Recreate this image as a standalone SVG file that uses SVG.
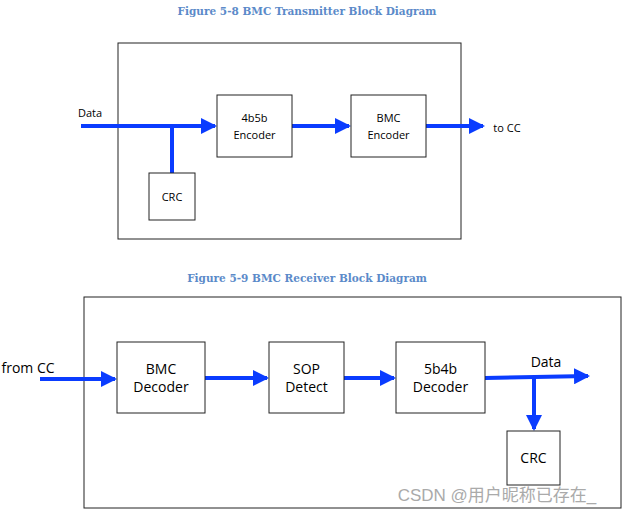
<svg xmlns="http://www.w3.org/2000/svg" width="622" height="513" viewBox="0 0 622 513">
<style>
.t{font-family:"DejaVu Serif",serif;font-weight:bold;font-size:10.5px;fill:#5b8ac9;text-anchor:middle}
.b{fill:#fff;stroke:#222;stroke-width:1}
.l{font-family:"Open Sans","Liberation Sans",sans-serif;fill:#000;text-anchor:middle}
.s{font-size:11px}.m{font-size:14px}
.c{stroke:#0a3cff;stroke-width:4;fill:none}
</style>
<defs><marker id="a" markerWidth="4" markerHeight="4" refX="3.5" refY="2" orient="auto" markerUnits="strokeWidth"><path d="M0,0L4,2L0,4z" fill="#0a3cff"/></marker></defs>
<rect width="622" height="513" fill="#fff"/>
<text class="t" x="307" y="15">Figure 5-8 BMC Transmitter Block Diagram</text>
<text class="t" x="307" y="282">Figure 5-9 BMC Receiver Block Diagram</text>
<rect class="b" x="118" y="43" width="343" height="196"/>
<rect class="b" x="84" y="297" width="537" height="211"/>
<g id="connectors">
<path class="c" d="M81,126H215" marker-end="url(#a)"/>
<path class="c" d="M172,126V173"/>
<path class="c" d="M292,126H349" marker-end="url(#a)"/>
<path class="c" d="M426,126H483" marker-end="url(#a)"/>
<path class="c" d="M40,379H115" marker-end="url(#a)"/>
<path class="c" d="M205,378H267" marker-end="url(#a)"/>
<path class="c" d="M344,378H394" marker-end="url(#a)"/>
<path class="c" d="M485,378L588,376" marker-end="url(#a)"/>
<path class="c" d="M534,378V429" marker-end="url(#a)"/>
</g>
<g id="n4b5b"><rect class="b" x="217" y="95" width="75" height="62"/><text class="l s" x="254.5" y="122">4b5b</text><text class="l s" x="254.5" y="139">Encoder</text></g>
<g id="nbmcenc"><rect class="b" x="351" y="95" width="75" height="62"/><text class="l s" x="388.5" y="122">BMC</text><text class="l s" x="388.5" y="139">Encoder</text></g>
<g id="ncrc1"><rect class="b" x="149" y="173" width="46" height="47"/><text class="l s" x="172" y="201">CRC</text></g>
<text class="l s" x="90" y="117">Data</text>
<text class="l s" x="507" y="132">to CC</text>
<g id="nbmcdec"><rect class="b" x="117" y="342" width="88" height="71"/><text class="l m" x="161" y="374">BMC</text><text class="l m" x="161" y="392">Decoder</text></g>
<g id="nsop"><rect class="b" x="269" y="342" width="75" height="71"/><text class="l m" x="306.5" y="374">SOP</text><text class="l m" x="306.5" y="392">Detect</text></g>
<g id="n5b4b"><rect class="b" x="396" y="342" width="89" height="71"/><text class="l m" x="440.5" y="374">5b4b</text><text class="l m" x="440.5" y="392">Decoder</text></g>
<g id="ncrc2"><rect class="b" x="507" y="431" width="53" height="54"/><text class="l m" x="533.5" y="463">CRC</text></g>
<text class="l m" x="28" y="373">from CC</text>
<text class="l m" x="546" y="367">Data</text>
<text x="497" y="501" font-family="'Liberation Sans','Noto Sans CJK SC',sans-serif" font-size="17" fill="#aaa" text-anchor="middle">CSDN @用户昵称已存在_</text>
</svg>
